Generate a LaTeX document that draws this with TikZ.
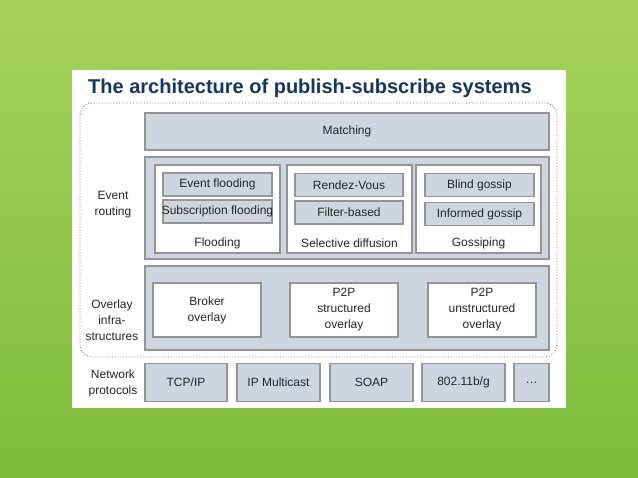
\documentclass[tikz,border=0pt]{standalone}
\usepackage{fontspec}
\setmainfont{Liberation Sans}
\begin{document}
\begin{tikzpicture}[x=1pt,y=-1pt,
  gb/.style={draw=gray!80!black!70,line width=1.3pt,fill=boxc},
  wb/.style={draw=gray!80!black!70,line width=1.3pt,fill=white},
  t/.style={font=\fontsize{12}{14}\selectfont,align=center,text=black!85},
  t2/.style={font=\fontsize{12}{16}\selectfont,align=center,text=black!85}]
\definecolor{boxc}{HTML}{CDD6DF}
\definecolor{titc}{HTML}{17365D}
\definecolor{gA}{HTML}{A6D25C}
\definecolor{gB}{HTML}{7DBB3A}
\useasboundingbox (0,0) rectangle (638,478);
\shade[top color=gA,bottom color=gB] (0,0) rectangle (638,478);
\fill[white] (72,70) rectangle (566,408);
\node[font=\bfseries\fontsize{20}{24}\selectfont,text=titc,anchor=west,inner sep=0] (title) at (88,88) {The architecture of publish-subscribe systems};
\draw[dotted,line width=0.8pt,black!60,rounded corners=12pt] (80,103) rectangle (557,357);
\node[gb,minimum width=404,minimum height=37,t] (match) at (347,131.5) {Matching};
\node[gb,minimum width=404,minimum height=102] (er) at (347,208) {};
\node[wb,minimum width=125,minimum height=88] (fl) at (217.5,209) {};
\node[wb,minimum width=125,minimum height=88] (sd) at (349.5,209) {};
\node[wb,minimum width=125,minimum height=88] (go) at (478.5,209) {};
\node[gb,minimum width=109,minimum height=23,t] (ef) at (217.5,184.5) {Event flooding};
\node[gb,minimum width=109,minimum height=23] (sf) at (217.5,211.5) {};
\node[t,inner sep=0] (sfL) at (sf) {Subscription flooding};
\node[t] (flL) at (217.5,243) {Flooding};
\node[gb,minimum width=108,minimum height=23,t] (rv) at (349,185) {Rendez-Vous};
\node[gb,minimum width=108,minimum height=23,t] (fb) at (349,212.5) {Filter-based};
\node[t] (sdL) at (349.5,243) {Selective diffusion};
\node[gb,minimum width=109,minimum height=23,t] (bg) at (479.5,185) {Blind gossip};
\node[gb,minimum width=109,minimum height=23,t] (ig) at (479.5,214) {Informed gossip};
\node[t] (goL) at (478.5,243) {Gossiping};
\node[gb,minimum width=404,minimum height=84] (ov) at (347,308) {};
\node[wb,minimum width=108,minimum height=54,t2] (bo) at (207,310) {Broker\\overlay};
\node[wb,minimum width=108,minimum height=54,t2,inner sep=1pt] (ps) at (344,310) {P2P\\structured\\overlay};
\node[wb,minimum width=108,minimum height=54,t2,inner sep=1pt] (pu) at (482,310) {P2P\\unstructured\\overlay};
\node[gb,minimum width=82,minimum height=38,t] (tcp) at (186,382.5) {TCP/IP};
\node[gb,minimum width=83,minimum height=38,t] (ipm) at (278.5,382.5) {IP Multicast};
\node[gb,minimum width=83,minimum height=38,t] (soap) at (371.5,382.5) {SOAP};
\node[gb,minimum width=83,minimum height=38,t] (wifi) at (463.5,382.5) {802.11b/g};
\node[gb,minimum width=35,minimum height=38,t] (dots) at (531.5,382.5) {\dots};
\node[t2] (l1) at (113,205) {Event\\routing};
\node[t2] (l2) at (112,320) {Overlay\\infra-\\structures};
\node[t2] (l3) at (113,383) {Network\\protocols};
\end{tikzpicture}
\end{document}
